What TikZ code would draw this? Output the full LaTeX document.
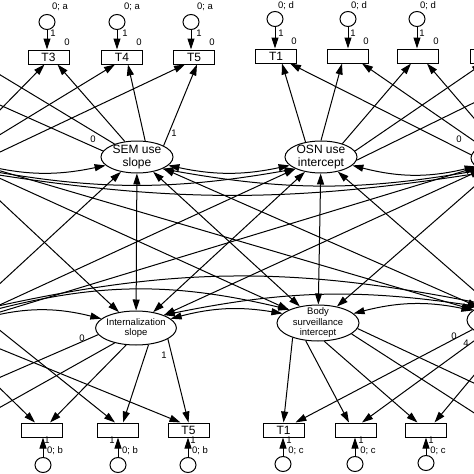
\documentclass[tikz,border=0pt]{standalone}
\usepackage{fontspec}
\setmainfont{Liberation Sans}
\usetikzlibrary{shapes.geometric,arrows.meta}
\begin{document}
\begin{tikzpicture}[x=1pt,y=-1pt,
 lat/.style={ellipse, draw, line width=1pt, fill=white, inner sep=-1pt, minimum width=72pt, minimum height=32pt, align=center, font=\fontsize{12}{12.5}\selectfont},
 blat/.style={ellipse, draw, line width=1pt, fill=white, inner sep=-1pt, minimum width=80pt, minimum height=34pt, align=center, font=\fontsize{9.5}{10.5}\selectfont},
 obs/.style={rectangle, draw, line width=1pt, fill=white, inner sep=0pt, minimum width=41pt, minimum height=14pt, font=\fontsize{12}{12}\selectfont},
 err/.style={ellipse, draw, line width=1pt, fill=white, inner sep=0pt, minimum width=16pt, minimum height=15pt},
 lbl/.style={inner sep=0pt, font=\fontsize{9.5}{10}\selectfont},
 ld/.style={-{Triangle[length=11pt,width=7pt]}, line width=1pt},
 cov/.style={{Triangle[length=11pt,width=7pt]}-{Triangle[length=11pt,width=7pt]}, line width=1pt}]
\useasboundingbox (0,0) rectangle (474,474);
\clip (0,0) rectangle (474,474);
% latent factors (the two at each side lie mostly outside the frame)
\node[lat] (SI) at (-47,157) {};
\node[lat] (SS) at (137,157) {SEM use\\slope};
\node[lat] (OI) at (321,157) {OSN use\\intercept};
\node[lat] (OS) at (507,158) {};
\node[blat] (II) at (-46,326) {};
\node[blat] (IS) at (136,328) {Internalization\\slope};
\node[blat, inner ysep=-2.5pt, minimum width=82pt, minimum height=36pt] (BI) at (318,323) {Body\\surveillance\\intercept};
\node[blat, minimum width=82pt, minimum height=36pt] (BS) at (508,320) {};
% observed, top
\node[obs] (ST1) at (-96,57) {};
\node[obs] (ST2) at (-24,57) {};
\node[obs] (ST3) at (48.5,57) {T3};
\node[obs] (ST4) at (122,57) {T4};
\node[obs] (ST5) at (194,57) {T5};
\node[obs] (OT1) at (276,56) {T1};
\node[obs] (OT2) at (348,56) {};
\node[obs] (OT3) at (418,56) {};
\node[obs] (OT4) at (491,56) {};
\node[obs] (OT5) at (563,56) {};
% observed, bottom
\node[obs] (IT1) at (-110,430) {};
\node[obs] (IT2) at (-34,430) {};
\node[obs] (IT3) at (42,430) {};
\node[obs] (IT4) at (118,430) {};
\node[obs] (IT5) at (188.5,430) {T5};
\node[obs] (BT1) at (283.5,430) {T1};
\node[obs] (BT2) at (356,430) {};
\node[obs] (BT3) at (425.5,430) {};
\node[obs] (BT4) at (496,430) {};
\node[obs] (BT5) at (566,430) {};
% error terms
\node[err] (eS3) at (47,22) {};
\node[err] (eS4) at (117,22) {};
\node[err] (eS5) at (191,22) {};
\node[err] (eO1) at (275,19) {};
\node[err] (eO2) at (348,19) {};
\node[err] (eO3) at (417,19) {};
\node[err] (eI3) at (43,465) {};
\node[err] (eI4) at (118,465) {};
\node[err] (eI5) at (188,465) {};
\node[err] (eB1) at (283,464) {};
\node[err] (eB2) at (355,464) {};
\node[err] (eB3) at (426,463) {};
\foreach \e/\b in {eS3/ST3,eS4/ST4,eS5/ST5,eO1/OT1,eO2/OT2,eO3/OT3}
  \draw[ld] (\e) -- (\e |- \b.north);
\foreach \e/\b in {eI3/IT3,eI4/IT4,eI5/IT5,eB1/BT1,eB2/BT2,eB3/BT3}
  \draw[ld] (\e) -- (\e |- \b.south);
% loadings top
\draw[ld] (SI.120) -- ([xshift=-4pt]ST1.south);
\draw[ld] (SI.80) -- ([xshift=-4pt]ST2.south);
\draw[ld] (SI.44) -- ([xshift=-4pt]ST3.south);
\draw[ld] (SI.21) -- ([xshift=-7pt]ST4.south);
\draw[ld] (SI.0) -- ([xshift=-9pt]ST5.south);
\draw[ld] (SS.170) -- ([xshift=5pt]ST1.south);
\draw[ld] (SS.150) -- ([xshift=7pt]ST2.south);
\draw[ld] (SS.128) -- ([xshift=9pt]ST3.south);
\draw[ld] (SS.63) -- ([xshift=6pt]ST4.south);
\draw[ld] (SS.23) -- ([xshift=3pt]ST5.south);
\draw[ld] (OI.136) -- ([xshift=6pt]OT1.south);
\draw[ld] (OI.90) -- ([xshift=-6pt]OT2.south);
\draw[ld] (OI.32) -- ([xshift=-7pt]OT3.south);
\draw[ld] (OI.10) -- ([xshift=-8pt]OT4.south);
\draw[ld] (OI.-5) -- ([xshift=-9pt]OT5.south);
\draw[ld] (OS.175) -- ([xshift=14pt]OT1.south);
\draw[ld] (OS.155) -- ([xshift=14pt]OT2.south);
\draw[ld] (OS.128) -- ([xshift=9pt]OT3.south);
\draw[ld] (OS.63) -- ([xshift=6pt]OT4.south);
\draw[ld] (OS.23) -- ([xshift=3pt]OT5.south);
% loadings bottom
\draw[ld] (II.-150) -- ([xshift=-5pt]IT1.north);
\draw[ld] (II.-120) -- ([xshift=-6pt]IT2.north);
\draw[ld] (II.-90) -- ([xshift=-7pt]IT3.north);
\draw[ld] (II.0) -- ([xshift=-3pt]IT4.north);
\draw[ld] (II.-30) -- ([xshift=-8pt]IT5.north);
\draw[ld] (IS.-170) -- ([xshift=6pt]IT1.north);
\draw[ld] (IS.-145) -- ([xshift=7pt]IT2.north);
\draw[ld] (IS.-120) -- ([xshift=8pt]IT3.north);
\draw[ld] (IS.-53) -- ([xshift=5pt]IT4.north);
\draw[ld] (IS.-19) -- ([xshift=0pt]IT5.north);
\draw[ld] (BI.-150) -- ([xshift=0pt]BT1.north);
\draw[ld] (BI.-125) -- ([xshift=-7pt]BT2.north);
\draw[ld] (BI.-71) -- ([xshift=-8pt]BT3.north);
\draw[ld] (BI.-18) -- ([xshift=-7pt]BT4.north);
\draw[ld] (BI.-8) -- ([xshift=-8pt]BT5.north);
\draw[ld] (BS.-165) -- ([xshift=12pt]BT1.north);
\draw[ld] (BS.-150) -- ([xshift=6pt]BT2.north);
\draw[ld] (BS.-100) -- ([xshift=9pt]BT3.north);
\draw[ld] (BS.-70) -- ([xshift=6pt]BT4.north);
\draw[ld] (BS.-40) -- ([xshift=3pt]BT5.north);
% covariances, straight
\foreach \a in {SI,SS,OI,OS}
  \foreach \b in {II,IS,BI,BS}
    \draw[cov] (\a) -- (\b);
% covariances, curved top
\draw[cov] (SI.-15) to[bend right=12] (SS.-165);
\draw[cov] (SS.-15) to[bend right=12] (OI.-165);
\draw[cov] (OI.-15) to[bend right=14] (OS.-165);
\draw[cov] (SI.-25) to[bend right=10] (OI.-155);
\draw[cov] (SS.-25) to[bend right=10] (OS.-155);
\draw[cov] (SI.-35) to[bend right=9] (OS.-145);
% covariances, curved bottom
\draw[cov] (II.15) to[bend left=13] (IS.165);
\draw[cov] (IS.15) to[bend left=12] (BI.165);
\draw[cov] (BI.15) to[bend left=13] (BS.165);
\draw[cov] (II.25) to[bend left=14] (BI.155);
\draw[cov] (IS.25) to[bend left=10] (BS.155);
\draw[cov] (II.35) to[bend left=12] (BS.145);
% labels
\node[lbl] (a1) at (60,7) {0; a};
\node[lbl] (a2) at (132,7) {0; a};
\node[lbl] (a3) at (205,7) {0; a};
\node[lbl] (d1) at (286,6) {0; d};
\node[lbl] (d2) at (359,6) {0; d};
\node[lbl] (d3) at (428,6) {0; d};
\node[lbl] (u1) at (53,33) {1};
\node[lbl] (u2) at (125,33) {1};
\node[lbl] (u3) at (199,33) {1};
\node[lbl] (u4) at (281,33) {1};
\node[lbl] (u5) at (353,33) {1};
\node[lbl] (u6) at (422,33) {1};
\node[lbl] (z1) at (67,42) {0};
\node[lbl] (z2) at (139,42) {0};
\node[lbl] (z3) at (212,42) {0};
\node[lbl] (z4) at (294,41) {0};
\node[lbl] (z5) at (366,41) {0};
\node[lbl] (z6) at (436,41) {0};
\node[lbl] (s0) at (93,139) {0};
\node[lbl] (s1) at (174,133) {1};
\node[lbl] (o0) at (459,139) {0};
\node[lbl] (i0) at (82,338) {0};
\node[lbl] (i1) at (164,355) {1};
\node[lbl] (b0) at (454,336) {0};
\node[lbl] (b4) at (466,343) {4};
\node[lbl] (v1) at (47,440) {1};
\node[lbl] (v2) at (112,440) {1};
\node[lbl] (v3) at (193,440) {1};
\node[lbl] (v4) at (289,440) {1};
\node[lbl] (v5) at (361,440) {1};
\node[lbl] (v6) at (431,440) {1};
\node[lbl] (w1) at (55,451) {0; b};
\node[lbl] (w2) at (130,451) {0; b};
\node[lbl] (w3) at (200,451) {0; b};
\node[lbl] (w4) at (296,451) {0; c};
\node[lbl] (w5) at (368,451) {0; c};
\node[lbl] (w6) at (438,451) {0; c};
\end{tikzpicture}
\end{document}
